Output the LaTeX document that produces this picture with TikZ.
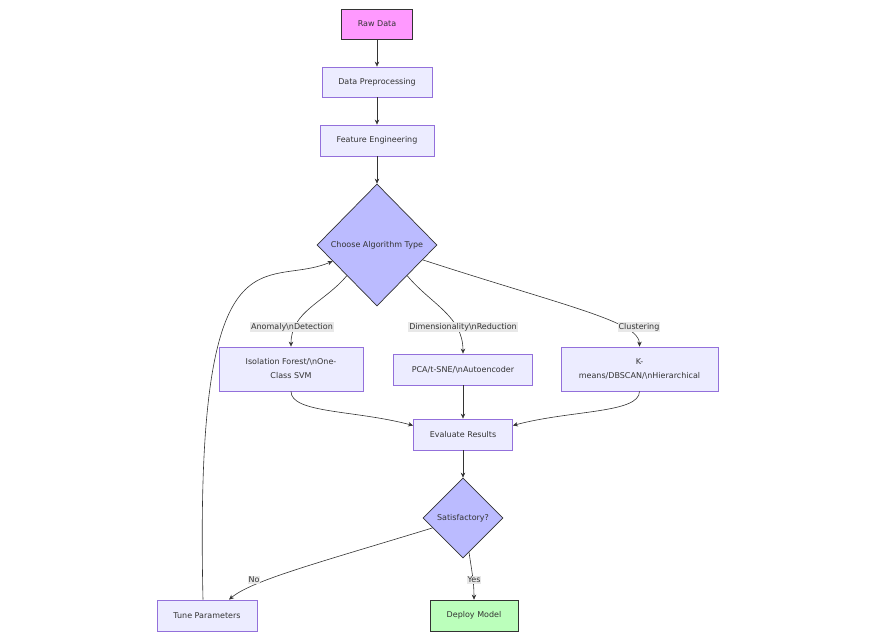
\documentclass[tikz,border=0pt]{standalone}
\usepackage{fontspec}
\setmainfont{DejaVu Sans}
\usetikzlibrary{shapes.geometric,arrows.meta}
\definecolor{boxfill}{HTML}{ECECFF}
\definecolor{boxline}{HTML}{9370DB}
\definecolor{decfill}{HTML}{BBBBFF}
\definecolor{rawfill}{HTML}{FF99FF}
\definecolor{okfill}{HTML}{BBFFBB}
\definecolor{darkline}{HTML}{333333}
\definecolor{labelbg}{HTML}{E8E8E8}
\begin{document}
\begin{tikzpicture}[x=1pt, y=1pt,
        every node/.style={font=\fontsize{8}{14}\selectfont, text=darkline},
        procbox/.style={draw=boxline, fill=boxfill, line width=0.8pt, align=center, inner sep=0pt},
        decision/.style={diamond, draw=darkline, fill=decfill, line width=0.7pt, inner sep=0pt, aspect=1},
        endbox/.style={draw=darkline, line width=0.7pt, inner sep=0pt},
        edgelabel/.style={fill=labelbg, inner sep=1pt},
        flow/.style={draw=darkline, line width=0.6pt, -{Stealth[length=5pt, width=4.5pt]}}]
                \useasboundingbox (0,0) rectangle (871,-636);
                \node[endbox, fill=rawfill, minimum width=71pt, minimum height=30pt] (raw_data) at (377,-24) {Raw Data};
                \node[procbox, minimum width=110pt, minimum height=30pt] (pre_proc) at (377,-82) {Data Preprocessing};
                \node[procbox, minimum width=114pt, minimum height=31pt] (feat_eng) at (377,-140.5) {Feature Engineering};
                \node[decision, minimum width=120pt, minimum height=122pt] (choose_alg) at (377,-245) {Choose Algorithm Type};
                \node[procbox, minimum width=144pt, minimum height=44pt] (iso_forest) at (291,-369) {Isolation Forest/\textbackslash nOne-\\Class SVM};
                \node[procbox, minimum width=139pt, minimum height=31pt] (pca_tsne) at (463,-369.5) {PCA/t-SNE/\textbackslash nAutoencoder};
                \node[procbox, minimum width=157pt, minimum height=44pt] (k_means) at (639.5,-369) {K-\\means/DBSCAN/\textbackslash nHierarchical};
                \node[procbox, minimum width=99pt, minimum height=31pt] (eval_res) at (463,-434.5) {Evaluate Results};
                \node[decision, minimum width=80pt, minimum height=80pt] (satisfied) at (463,-518) {Satisfactory?};
                \node[procbox, minimum width=100pt, minimum height=31pt] (tune_par) at (207,-615.5) {Tune Parameters};
                \node[endbox, fill=okfill, minimum width=88pt, minimum height=31pt] (deploy_mod) at (474,-615.5) {Deploy Model};
                \draw[flow] (raw_data) -- (pre_proc);
                \draw[flow] (pre_proc) -- (feat_eng);
                \draw[flow] (feat_eng) -- (choose_alg);
                \draw[flow] (choose_alg.south west) to[out=-130, in=90] (iso_forest.north);
                \draw[flow] (choose_alg.south east) to[out=-50, in=90] (pca_tsne.north);
                \draw[flow] (choose_alg.-18) .. controls +(-18:150) and +(90:25) .. (k_means.north);
                \draw[flow] (iso_forest.south) .. controls +(0,-22) and +(165:60) .. ([yshift=9pt]eval_res.west);
                \draw[flow] (pca_tsne) -- (eval_res);
                \draw[flow] (k_means.south) .. controls +(0,-22) and +(15:60) .. ([yshift=9pt]eval_res.east);
                \draw[flow] (eval_res) -- (satisfied);
                \draw[flow] (satisfied.198) .. controls +(197:120) and +(40:30) .. ([xshift=22pt]tune_par.north);
                \draw[flow] (satisfied.-80) to[out=-82, in=90] (deploy_mod.north);
                \draw[flow] ([xshift=-4pt]tune_par.north) .. controls (194,-215) and (265,-290) .. (choose_alg.200);
                \node[edgelabel] (lbl_anom) at (292,-327) {Anomaly\textbackslash nDetection};
                \node[edgelabel] (lbl_dim) at (463,-327) {Dimensionality\textbackslash nReduction};
                \node[edgelabel] (lbl_clus) at (639,-327) {Clustering};
                \node[edgelabel] (lbl_no) at (254,-580) {No};
                \node[edgelabel] (lbl_yes) at (474,-580) {Yes};
            \end{tikzpicture}
\end{document}
